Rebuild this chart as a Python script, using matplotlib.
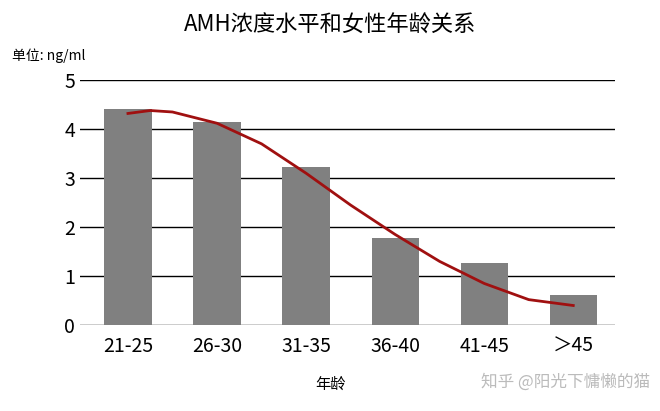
import matplotlib.pyplot as plt

plt.rcParams['font.family'] = ['Noto Sans CJK SC', 'DejaVu Sans']

# data
age_groups = ['21-25', '26-30', '31-35', '36-40', '41-45', '＞45']
amh_values = [4.42, 4.15, 3.22, 1.78, 1.26, 0.62]
trend_x = [0, 0.25, 0.5, 1, 1.5, 2, 2.5, 3, 3.5, 4, 4.5, 5]
trend_y = [4.32, 4.38, 4.35, 4.12, 3.7, 3.1, 2.45, 1.85, 1.3, 0.85, 0.52, 0.4]

fig = plt.figure(figsize=(6.6, 4.11), dpi=100)
ax = fig.add_axes([0.121, 0.209, 0.811, 0.596])

x = range(len(age_groups))
ax.bar(x, amh_values, width=0.53, color='#808080', zorder=2)
ax.plot(trend_x, trend_y, color='#a01010', linewidth=2, zorder=3)

ax.set_xlim(-0.54, 5.47)
ax.set_ylim(0, 5)
ax.set_yticks(range(6))
ax.yaxis.grid(True, color='black', linewidth=1)
ax.set_axisbelow(True)
ax.set_xticks(list(x))
ax.set_xticklabels(age_groups)
ax.tick_params(axis='both', length=0, labelsize=14)
ax.tick_params(axis='x', pad=8)
for s in ax.spines.values():
    s.set_visible(False)

fig.text(0.5, 0.94, 'AMH浓度水平和女性年龄关系', ha='center', va='center', fontsize=16)
fig.text(0.018, 0.865, '单位: ng/ml', ha='left', va='center', fontsize=10)
fig.text(0.5, 0.065, '年龄', ha='center', va='center', fontsize=11)
fig.text(0.985, 0.07, '知乎 @阳光下慵懒的猫', ha='right', va='center', fontsize=12, color='#bbbbbb')

fig.savefig('out.png', dpi=100)
